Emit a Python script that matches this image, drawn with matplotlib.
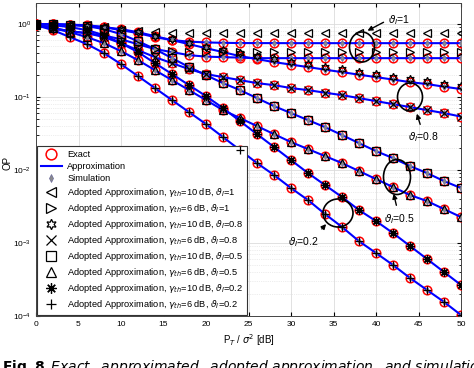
import matplotlib.pyplot as plt
import numpy as np
from matplotlib.patches import Ellipse

W, H = 474, 368

snr_db = np.arange(0, 51, 2)

# exact OP (approximation and simulation lie on the same points)
op_t1_g10 = [1.0, 1.0, 0.984, 0.969, 0.91, 0.828, 0.753, 0.664, 0.604, 0.576, 0.562, 0.555, 0.551,
             0.55, 0.55, 0.549, 0.549, 0.549, 0.549, 0.549, 0.549, 0.549, 0.549, 0.549, 0.549, 0.549]
op_t1_g6 = [0.97, 0.88, 0.80, 0.75, 0.70, 0.62, 0.53, 0.455, 0.414, 0.376, 0.359, 0.353, 0.348,
            0.342, 0.342, 0.342, 0.342, 0.342, 0.342, 0.342, 0.342, 0.342, 0.342, 0.342, 0.342, 0.342]
op_t08_g10 = [1.0, 1.0, 0.984, 0.954, 0.910, 0.854, 0.777, 0.685, 0.604, 0.532, 0.469, 0.414, 0.364,
              0.332, 0.302, 0.279, 0.258, 0.238, 0.220, 0.203, 0.188, 0.174, 0.1605, 0.151, 0.139, 0.129]
op_t08_g6 = [0.984, 0.882, 0.802, 0.753, 0.664, 0.549, 0.440, 0.353, 0.292, 0.242, 0.207, 0.188, 0.171,
             0.1555, 0.146, 0.133, 0.1247, 0.115, 0.1065, 0.0969, 0.0882, 0.0802, 0.0730, 0.0664, 0.0604, 0.0541]
op_t05_g10 = [1.0, 1.0, 0.969, 0.939, 0.854, 0.730, 0.585, 0.455, 0.342, 0.258, 0.200, 0.1555, 0.1247,
              0.0969, 0.0753, 0.0604, 0.0484, 0.0388, 0.0302, 0.0234, 0.0182, 0.0146, 0.01135, 0.0091, 0.00707, 0.00567]
op_t05_g6 = [0.984, 0.882, 0.777, 0.664, 0.549, 0.427, 0.321, 0.234, 0.171, 0.1247, 0.0910, 0.0664, 0.0516,
             0.0401, 0.0311, 0.0242, 0.0194, 0.01556, 0.01247, 0.00969, 0.00753, 0.00585, 0.00455, 0.00376, 0.00292, 0.00227]
op_t02_g10 = [1.0, 0.969, 0.910, 0.828, 0.707, 0.549, 0.414, 0.292, 0.207, 0.146, 0.1032, 0.0707, 0.0469,
              0.0311, 0.0207, 0.01371, 0.0091, 0.00623, 0.00427, 0.00283, 0.0020, 0.00137, 0.00091, 0.000604, 0.000401, 0.000266]
op_t02_g6 = [0.969, 0.828, 0.664, 0.532, 0.401, 0.283, 0.194, 0.133, 0.0910, 0.0623, 0.0427, 0.0283, 0.0188,
             0.01247, 0.00855, 0.00567, 0.00388, 0.00250, 0.00166, 0.00106, 0.00073, 0.000500, 0.000332, 0.000227, 0.000156, 0.000103]

# adopted approximation (differs for the larger theta_I)
adopt_t1_g10 = [1.0, 1.0, 0.984, 0.969, 0.91, 0.828, 0.80, 0.77, 0.755] + [0.75] * 17
adopt_t1_g6 = [0.97, 0.88, 0.80, 0.75, 0.70, 0.62, 0.53, 0.46, 0.43] + [0.42] * 17
adopt_t08_g10 = [1.0, 1.0, 0.984, 0.954, 0.910, 0.854, 0.777, 0.69, 0.62, 0.55, 0.49, 0.44, 0.40,
                 0.365, 0.333, 0.307, 0.284, 0.262, 0.242, 0.223, 0.207, 0.191, 0.177, 0.166, 0.153, 0.142]

exact = [op_t1_g10, op_t1_g6, op_t08_g10, op_t08_g6, op_t05_g10, op_t05_g6, op_t02_g10, op_t02_g6]
adopted = [adopt_t1_g10, adopt_t1_g6, adopt_t08_g10, op_t08_g6, op_t05_g10, op_t05_g6, op_t02_g10, op_t02_g6]
gamma_th = ['10', '6', '10', '6', '10', '6', '10', '6']
theta = ['1', '1', '0.8', '0.8', '0.5', '0.5', '0.2', '0.2']
markers = ['<', '>', (6, 1, 0), 'x', 's', '^', (8, 2, 0), '+']

plt.rcParams['font.family'] = ['Liberation Sans', 'DejaVu Sans']
plt.rcParams['mathtext.fontset'] = 'dejavusans'

fig = plt.figure(figsize=(W / 100, H / 100), dpi=100)
ax = fig.add_axes([36 / W, 1 - 316 / H, (461 - 36) / W, (316 - 3) / H])

h_exact = h_approx = h_sim = None
h_adopt = []
for op, ad, mk in zip(exact, adopted, markers):
    l1, = ax.plot(snr_db, op, 'o', mfc='none', mec='r', ms=6.2, mew=1.1, zorder=3)
    l2, = ax.plot(snr_db, op, '-', color='b', lw=1.5, zorder=4)
    l3, = ax.plot(snr_db, op, 'd', ms=3.2, mfc='#8a8a8a', mec='#6a6a9a', mew=0.5, zorder=5)
    l4, = ax.plot(snr_db, ad, linestyle='none', marker=mk, mfc='none', mec='k', ms=6.0, mew=0.9, zorder=6)
    if h_exact is None:
        h_exact, h_approx, h_sim = l1, l2, l3
    h_adopt.append(l4)

ax.set_yscale('log')
ax.set_xlim(0, 50)
ax.set_ylim(1e-4, 1.95)
ax.set_xticks(np.arange(0, 51, 5))
ax.grid(True, which='major', color='#dcdcdc', lw=0.6)
ax.grid(True, which='minor', axis='y', color='#dcdcdc', lw=0.5, ls=':')
ax.tick_params(which='both', direction='in', labelsize=6, top=True, right=True, length=3)
ax.tick_params(which='minor', length=1.8)
for s in ax.spines.values():
    s.set_linewidth(0.7)
    s.set_color('#444444')
ax.set_xlabel(r'P$_T$ / $\sigma^2$ [dB]', fontsize=7, labelpad=3)
ax.set_ylabel('OP', fontsize=7)
ax.yaxis.set_label_coords(-0.055, 0.49)

labels = ['Exact', 'Approximation', 'Simulation']
labels += [r'Adopted Approximation, $\gamma_{th}$=%s dB, $\vartheta_I$=%s' % (g, t)
           for g, t in zip(gamma_th, theta)]
leg = ax.legend([h_exact, h_approx, h_sim] + h_adopt, labels, loc='lower left',
                bbox_to_anchor=(0.0, 0.0), borderaxespad=0.1, fontsize=6.7, fancybox=False,
                edgecolor='#333333', framealpha=1, handlelength=2.2, handletextpad=0.6,
                labelspacing=0.32, borderpad=0.45, markerscale=1.25)
leg.get_frame().set_linewidth(0.8)


def fp(x, y):
    return (x / W, 1 - y / H)


# circles and arrows marking the theta_I groups
for cx, cy, w, h in [(362, 47, 25, 30), (410, 97, 25, 28), (397, 177, 27, 35), (338, 213, 30, 28)]:
    fig.patches.append(Ellipse(fp(cx, cy), w / W, h / H, transform=fig.transFigure,
                               fill=False, ec='k', lw=1.2))

notes = [(r'$\vartheta_I$=1', (386, 21), (365, 32), (388, 20)),
         (r'$\vartheta_I$=0.8', (421, 127), (416, 111), (408, 137)),
         (r'$\vartheta_I$=0.5', (397, 208), (393, 191), (384, 219)),
         (r'$\vartheta_I$=0.2', (320, 231), (328, 222), (288, 242))]
for txt, start, tip, tpos in notes:
    ax.annotate('', xy=fp(*tip), xycoords='figure fraction', xytext=fp(*start),
                textcoords='figure fraction',
                arrowprops=dict(arrowstyle='-|>', color='k', lw=1.0, mutation_scale=7))
    fig.text(*fp(*tpos), txt, fontsize=7.5, ha='left', va='center')

fig.text(0.005, 1 - 358 / H, r'$\bf{Fig. 8}$  $\it{Exact,\ approximated,\ adopted\ approximation,\ and\ simulation\ OPs\ for\ Ind}$',
         fontsize=10, va='top', ha='left', family='Liberation Serif')

fig.savefig('out.png', dpi=100)
